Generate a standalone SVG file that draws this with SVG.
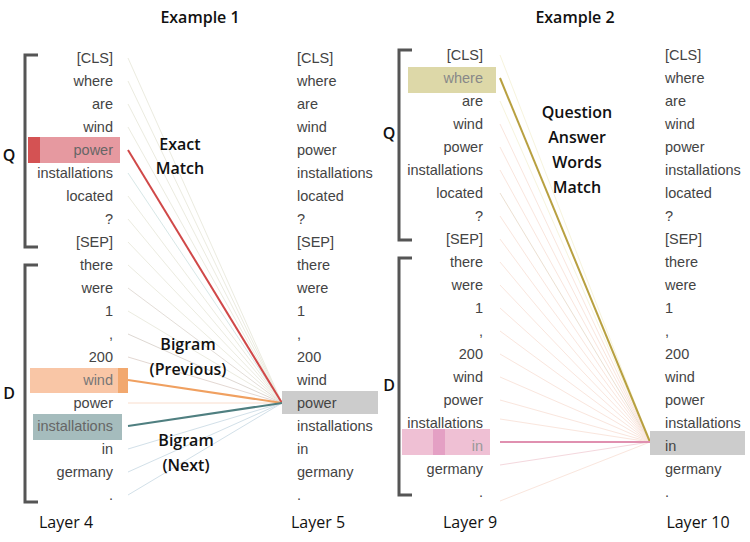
<svg xmlns="http://www.w3.org/2000/svg" width="750" height="542" viewBox="0 0 750 542">
<style>
.t{font-family:"Liberation Sans",Arial,sans-serif;font-size:14.5px;fill:#444}
.l{text-anchor:end}
.h{font-family:"Open Sans","Liberation Sans",sans-serif;font-size:16px;font-weight:600;fill:#111;text-anchor:middle}
.b{fill:none;stroke:#555;stroke-width:3}
.f{stroke-width:1;opacity:.35}
</style>
<rect width="750" height="542" fill="#fff"/>
<text class="h" x="200" y="23">Example 1</text>
<text class="h" x="575" y="23">Example 2</text>
<g id="connectors">
 <g stroke="#c8c8a8" class="f">
  <line x1="128" y1="58" x2="282" y2="403"/><line x1="128" y1="81" x2="282" y2="403"/><line x1="128" y1="104" x2="282" y2="403"/><line x1="128" y1="127" x2="282" y2="403"/>
  <line x1="128" y1="173" x2="282" y2="403" stroke="#8fbcbc"/><line x1="128" y1="196" x2="282" y2="403"/><line x1="128" y1="219" x2="282" y2="403"/><line x1="128" y1="242" x2="282" y2="403"/>
  <line x1="128" y1="265" x2="282" y2="403"/><line x1="128" y1="288" x2="282" y2="403" stroke="#b0a090"/><line x1="128" y1="311" x2="282" y2="403"/><line x1="128" y1="334" x2="282" y2="403" stroke="#a09080"/><line x1="128" y1="357" x2="282" y2="403" stroke="#b09080"/>
  <line x1="128" y1="403" x2="282" y2="403" stroke="#f0a070"/><line x1="128" y1="449" x2="282" y2="403" stroke="#80a8c0"/><line x1="128" y1="472" x2="282" y2="403" stroke="#80a8c0"/><line x1="128" y1="495" x2="282" y2="403" stroke="#80a8c0"/>
 </g>
 <line x1="128" y1="150" x2="282" y2="403" stroke="#d04848" stroke-width="2"/>
 <line x1="128" y1="380" x2="282" y2="403" stroke="#f0a060" stroke-width="2"/>
 <line x1="128" y1="426" x2="282" y2="403" stroke="#4f7f80" stroke-width="2"/>
 <g stroke="#f0b8a0" class="f">
  <line x1="500" y1="55" x2="650" y2="442" stroke="#e8e0a0"/><line x1="500" y1="101" x2="650" y2="442" stroke="#e8e0a0"/><line x1="500" y1="124" x2="650" y2="442"/><line x1="500" y1="147" x2="650" y2="442"/>
  <line x1="500" y1="170" x2="650" y2="442"/><line x1="500" y1="193" x2="650" y2="442" stroke="#c8a880"/><line x1="500" y1="216" x2="650" y2="442"/><line x1="500" y1="239" x2="650" y2="442"/>
  <line x1="500" y1="262" x2="650" y2="442"/><line x1="500" y1="285" x2="650" y2="442"/><line x1="500" y1="308" x2="650" y2="442"/><line x1="500" y1="331" x2="650" y2="442"/>
  <line x1="500" y1="354" x2="650" y2="442"/><line x1="500" y1="377" x2="650" y2="442"/><line x1="500" y1="400" x2="650" y2="442"/><line x1="500" y1="419" x2="650" y2="442"/>
  <line x1="500" y1="465" x2="650" y2="442" stroke="#e090a0"/><line x1="500" y1="501" x2="650" y2="442"/>
 </g>
 <line x1="500" y1="78" x2="650" y2="442" stroke="#b8a040" stroke-width="2"/>
 <line x1="500" y1="442" x2="650" y2="442" stroke="#e090b0" stroke-width="2"/>
</g>
<g id="highlights">
 <rect x="28" y="137" width="92" height="26" fill="#e08088" opacity=".8"/><rect x="28" y="137" width="12" height="26" fill="#d04040" opacity=".8"/>
 <rect x="30" y="368" width="98" height="25" fill="#f8b890" opacity=".8"/><rect x="118" y="368" width="10" height="25" fill="#f0a060" opacity=".8"/>
 <rect x="33" y="414" width="89" height="26" fill="#8fabac" opacity=".8"/>
 <rect x="282" y="391" width="96" height="23" fill="#ccc"/>
 <rect x="408" y="67" width="88" height="26" fill="#ddd8a8"/>
 <rect x="402" y="429" width="88" height="26" fill="#efc0d4"/><rect x="433" y="429" width="12" height="26" fill="#e4a0c4"/>
 <rect x="650" y="431" width="95" height="24" fill="#ccc"/>
</g>
<g id="brackets">
 <path class="b" d="M38 55H25V247H38"/><path class="b" d="M38 265H25V502H38"/>
 <path class="b" d="M412 50H399V240H412"/><path class="b" d="M412 258H399V495H412"/>
 <text class="h" x="9" y="161">Q</text><text class="h" x="9" y="399">D</text>
 <text class="h" x="389" y="139">Q</text><text class="h" x="389" y="391">D</text>
</g>
<g id="ex1-layer4" class="t l">
 <text x="113" y="63">[CLS]</text><text x="113" y="86">where</text><text x="113" y="109">are</text><text x="113" y="132">wind</text><text x="113" y="155" fill="#666">power</text><text x="113" y="178">installations</text><text x="113" y="201">located</text><text x="113" y="224">?</text><text x="113" y="247">[SEP]</text><text x="113" y="270">there</text><text x="113" y="293">were</text><text x="113" y="316">1</text><text x="113" y="339">,</text><text x="113" y="362">200</text><text x="113" y="385" fill="#777">wind</text><text x="113" y="408">power</text><text x="113" y="431" fill="#666">installations</text><text x="113" y="454">in</text><text x="113" y="477">germany</text><text x="113" y="500">.</text>
</g>
<g id="ex1-layer5" class="t">
 <text x="297" y="63">[CLS]</text><text x="297" y="86">where</text><text x="297" y="109">are</text><text x="297" y="132">wind</text><text x="297" y="155">power</text><text x="297" y="178">installations</text><text x="297" y="201">located</text><text x="297" y="224">?</text><text x="297" y="247">[SEP]</text><text x="297" y="270">there</text><text x="297" y="293">were</text><text x="297" y="316">1</text><text x="297" y="339">,</text><text x="297" y="362">200</text><text x="297" y="385">wind</text><text x="297" y="408">power</text><text x="297" y="431">installations</text><text x="297" y="454">in</text><text x="297" y="477">germany</text><text x="297" y="500">.</text>
</g>
<g id="ex2-layer9" class="t l">
 <text x="483" y="60">[CLS]</text><text x="483" y="83" fill="#888">where</text><text x="483" y="106">are</text><text x="483" y="129">wind</text><text x="483" y="152">power</text><text x="483" y="175">installations</text><text x="483" y="198">located</text><text x="483" y="221">?</text><text x="483" y="244">[SEP]</text><text x="483" y="267">there</text><text x="483" y="290">were</text><text x="483" y="313">1</text><text x="483" y="336">,</text><text x="483" y="359">200</text><text x="483" y="382">wind</text><text x="483" y="405">power</text><text x="483" y="428">installations</text><text x="483" y="451" fill="#999">in</text><text x="483" y="474">germany</text><text x="483" y="497">.</text>
</g>
<g id="ex2-layer10" class="t">
 <text x="665" y="60">[CLS]</text><text x="665" y="83">where</text><text x="665" y="106">are</text><text x="665" y="129">wind</text><text x="665" y="152">power</text><text x="665" y="175">installations</text><text x="665" y="198">located</text><text x="665" y="221">?</text><text x="665" y="244">[SEP]</text><text x="665" y="267">there</text><text x="665" y="290">were</text><text x="665" y="313">1</text><text x="665" y="336">,</text><text x="665" y="359">200</text><text x="665" y="382">wind</text><text x="665" y="405">power</text><text x="665" y="428">installations</text><text x="665" y="451">in</text><text x="665" y="474">germany</text><text x="665" y="497">.</text>
</g>
<g id="labels" class="h">
 <text x="180" y="150">Exact</text><text x="180" y="174">Match</text>
 <text x="188" y="350">Bigram</text><text x="188" y="375">(Previous)</text>
 <text x="186" y="446">Bigram</text><text x="186" y="471">(Next)</text>
 <text x="577" y="118">Question</text><text x="577" y="143">Answer</text><text x="577" y="168">Words</text><text x="577" y="193">Match</text>
 <text x="66" y="528" font-weight="400">Layer 4</text><text x="318" y="528" font-weight="400">Layer 5</text><text x="470" y="528" font-weight="400">Layer 9</text><text x="698" y="528" font-weight="400">Layer 10</text>
</g>
</svg>
